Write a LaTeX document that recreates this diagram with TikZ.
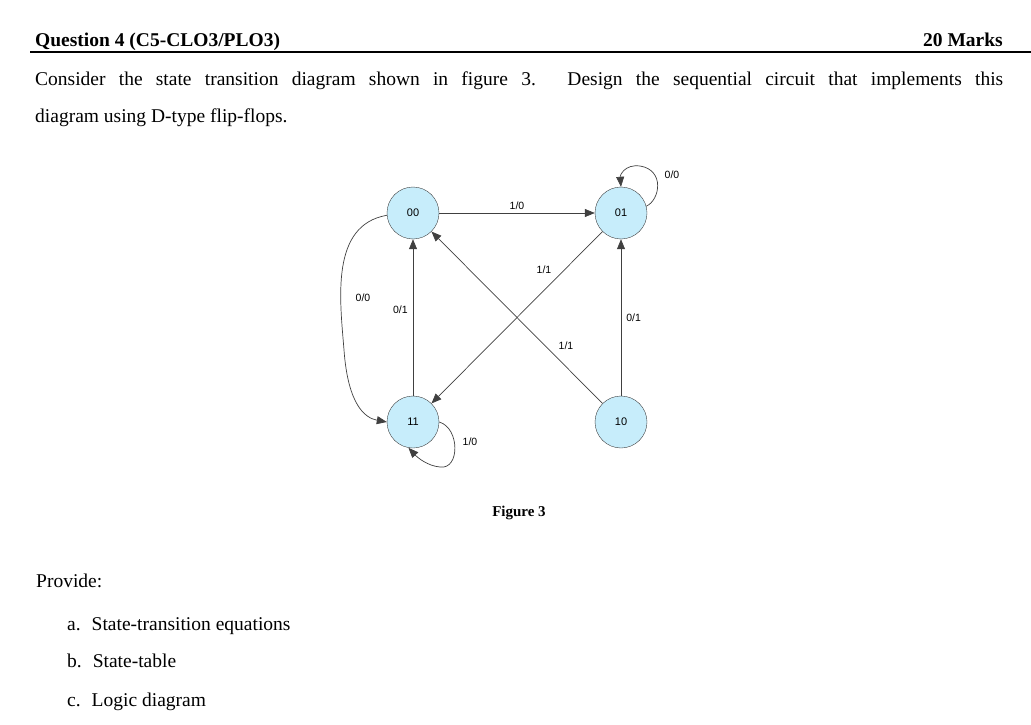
\documentclass[tikz,border=0pt]{standalone}
\usepackage{fontspec}
\setmainfont{Liberation Serif}
\newfontfamily\lsans{Liberation Sans}
\usetikzlibrary{arrows.meta}
\begin{document}
\begin{tikzpicture}[x=1pt,y=-1pt,
  st/.style={circle,draw=black!75,fill=cyan!22,minimum size=52pt,inner sep=0pt,font=\lsans\fontsize{11}{13}\selectfont},
  lbl/.style={font=\lsans\fontsize{10.5}{12}\selectfont,inner sep=1pt},
  tr/.style={draw=black!75,line width=0.7pt,-{Triangle[length=10pt,width=8pt]}},
  body/.style={font=\fontsize{19.5}{24}\selectfont,anchor=base west,inner sep=0pt}]
\useasboundingbox (0,0) rectangle (1031,725);
\node[body,font=\bfseries\fontsize{19.5}{24}\selectfont] (t) at (35,47) {Question 4 (C5-CLO3/PLO3)};
\node[body,font=\bfseries\fontsize{19.5}{24}\selectfont,anchor=base east] (m) at (1003,47) {20 Marks};
\draw[line width=1.8pt] (30,52) -- (1031,52);
\node[body] (p1) at (35,85) {\makebox[968pt][s]{Consider the state transition diagram shown in figure 3. Design the sequential circuit that implements this}};
\node[body] (p2) at (35,122) {diagram using D-type flip-flops.};
\node[st] (a) at (413,213) {00};
\node[st] (b) at (621,213) {01};
\node[st] (d) at (413,422) {11};
\node[st] (c) at (621,422) {10};
\draw[tr] (a) -- node[lbl,above=2pt]{1/0} (b);
\draw[tr] (d) -- node[lbl,left=4pt,pos=0.55]{0/1} (a);
\draw[tr] (c) -- node[lbl,right=4pt,pos=0.5]{0/1} (b);
\draw[tr] (b) -- (d);
\node[lbl] at (544,270) {1/1};
\draw[tr] (c) -- (a);
\node[lbl] at (566,346) {1/1};
\draw[tr] (a.185) .. controls (330,225) and (340,300) .. (344,350) .. controls (348,405) and (365,418) .. (d.west);
\node[lbl] at (363,298) {0/0};
\draw[tr] (b.15) .. controls (660,200) and (665,170) .. (640,166) .. controls (625,164) and (620,175) .. (b.north);
\node[lbl] at (672,175) {0/0};
\draw[tr] (d.east) .. controls (460,428) and (460,470) .. (440,467) .. controls (428,466) and (418,458) .. (d.260);
\node[lbl] at (470,442) {1/0};
\node[font=\bfseries\fontsize{15}{18}\selectfont] (f) at (519,513) {Figure 3};
\node[body] (pr) at (36,587) {Provide:};
\node[body] (la) at (67,630) {a.\hspace{11pt}State-transition equations};
\node[body] (lb) at (67,667) {b.\hspace{11pt}State-table};
\node[body] (lc) at (67,706) {c.\hspace{11pt}Logic diagram};
\end{tikzpicture}
\end{document}
